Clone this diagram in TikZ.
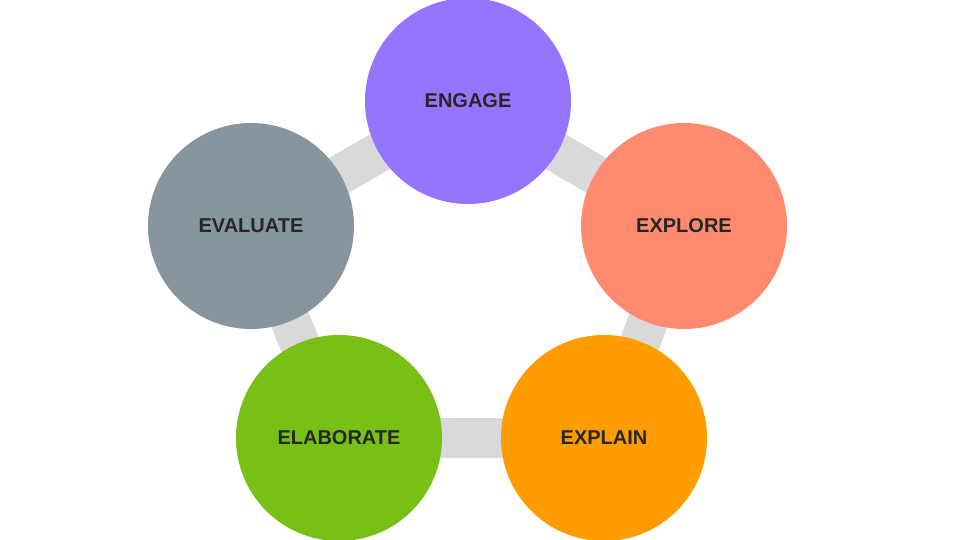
\documentclass[tikz,border=0pt]{standalone}
\usepackage{fontspec}
\setmainfont{Liberation Sans}
\begin{document}
\begin{tikzpicture}[x=1pt,y=-1pt,
  stage/.style={circle,minimum size=206pt,inner sep=0pt,font=\fontsize{20}{24}\selectfont\bfseries,text=black!85},
  link/.style={line width=40pt,draw=black!15}]
\useasboundingbox (0,0) rectangle (960,540);
\coordinate (cA) at (468,101);
\coordinate (cB) at (684,226);
\coordinate (cC) at (604,438);
\coordinate (cD) at (339,438);
\coordinate (cE) at (251,226);
\draw[link] (cA)--(cB)--(cC)--(cD)--(cE)--cycle;
\node[stage,fill={rgb,255:red,149;green,117;blue,253}] (A) at (cA) {ENGAGE};
\node[stage,fill={rgb,255:red,255;green,138;blue,112}] (B) at (cB) {EXPLORE};
\node[stage,fill={rgb,255:red,255;green,156;blue,0}] (C) at (cC) {EXPLAIN};
\node[stage,fill={rgb,255:red,120;green,191;blue,22}] (D) at (cD) {ELABORATE};
\node[stage,fill={rgb,255:red,135;green,149;blue,159}] (E) at (cE) {EVALUATE};
\end{tikzpicture}
\end{document}
